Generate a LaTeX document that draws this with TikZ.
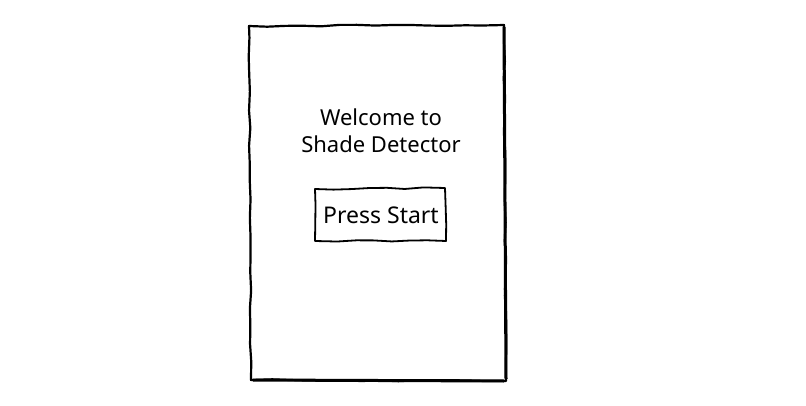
\documentclass[tikz,border=0pt]{standalone}
\usepackage{fontspec}
\setmainfont{Noto Sans}
\usetikzlibrary{decorations.pathmorphing}
\begin{document}
\begin{tikzpicture}[x=1pt,y=-1pt,
  sketch/.style={line width=2.2pt,line join=round,line cap=round,decorate,decoration={random steps,segment length=18pt,amplitude=0.8pt}},
  label/.style={font=\fontsize{22}{27}\selectfont,align=center}]
\useasboundingbox (0,0) rectangle (806,406);
\draw[sketch] (249,26) coordinate (a) -- (504,25) -- (506,381) -- (251,380) -- cycle;
\draw[line width=3pt] (504,27) -- (506,379);
\draw[line width=3pt] (253,380) -- (504,381);
\node[label] (title) at (381,131) {Welcome to\\Shade Detector};
\draw[sketch,line width=1.8pt] (315,189) -- (445,188) -- (446,241) -- (315,241) -- cycle;
\node[font=\fontsize{23}{27}\selectfont] (btn) at (381,215) {Press Start};
\end{tikzpicture}
\end{document}
